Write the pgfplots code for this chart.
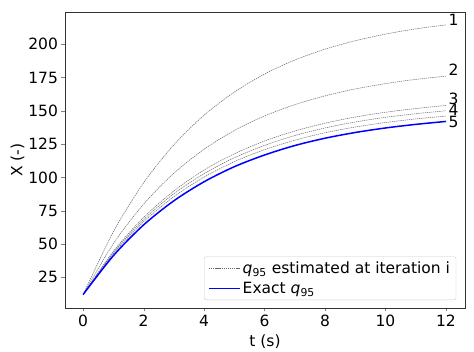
\documentclass[border=0pt]{standalone}
\usepackage{pgfplots}
\pgfplotsset{compat=1.18}
\usepackage{fontspec}
\setmainfont{DejaVu Sans}
\begin{document}
\begin{tikzpicture}
\pgfplotsset{
  est/.style={black!60, line width=0.5pt, dash pattern=on 1.3pt off 0.8pt, smooth},
}
\begin{axis}[
  name=ax,
  scale only axis,
  width=400pt, height=296pt,
  xmin=-0.6, xmax=12.63,
  ymin=1.9, ymax=224.2,
  xtick={0,2,4,6,8,10,12},
  ytick={25,50,75,100,125,150,175,200},
  tick align=outside,
  major tick length=3.5pt,
  tick pos=left,
  axis line style={black!80, line width=0.7pt},
  /pgf/number format/assume math mode=true,
  tick label style={font=\fontsize{15.5}{18}\selectfont},
  label style={font=\fontsize{15.5}{18}\selectfont},
  xlabel={t (s)},
  ylabel={X (-)},
  xlabel style={yshift=-1pt},
  ylabel style={yshift=-3pt},
  legend cell align=left,
  legend style={at={(0.978,0.027)}, anchor=south east,
    font=\fontsize{15.5}{18}\selectfont,
    draw=black!20, rounded corners=2pt, fill=white,
    inner xsep=4pt, inner ysep=3pt, row sep=3pt},
  legend image code/.code={\draw[#1] (0pt,0pt) -- (31pt,0pt);},
]
% curve 1
\addplot[est] coordinates {
(0,12) (1,59.1) (2,95.9) (3,124.4) (4,146.7) (5,164.0) (6,177.6) (7,188.1) (8,196.3) (9,202.6) (10,207.6) (11,211.5) (12,214.5)};
\addlegendentry{\textit{q}\textsubscript{95} estimated at iteration i}
% curve 2
\addplot[est, forget plot] coordinates {
(0,12) (1,50.2) (2,79.9) (3,103.1) (4,121.1) (5,135.2) (6,146.1) (7,154.6) (8,161.2) (9,166.4) (10,170.4) (11,173.6) (12,176.0)};
% curve 3
\addplot[est, forget plot] coordinates {
(0,12) (1,44.5) (2,69.9) (3,89.8) (4,105.5) (5,117.7) (6,127.3) (7,134.8) (8,140.7) (9,145.3) (10,148.9) (11,151.7) (12,154.0)};
% curve 4
\addplot[est, forget plot] coordinates {
(0,12) (1,43.6) (2,68.3) (3,87.7) (4,102.8) (5,114.7) (6,124.0) (7,131.4) (8,137.1) (9,141.6) (10,145.1) (11,147.8) (12,150.0)};
% curve 5
\addplot[est, forget plot] coordinates {
(0,12) (1,42.7) (2,66.7) (3,85.5) (4,100.2) (5,111.8) (6,120.8) (7,127.9) (8,133.5) (9,137.8) (10,141.2) (11,143.9) (12,146.0)};
% exact
\addplot[blue, line width=1.5pt, smooth] coordinates {
(0,12) (1,41.2) (2,64.3) (3,82.4) (4,96.7) (5,108.0) (6,116.8) (7,123.9) (8,129.4) (9,133.7) (10,137.1) (11,139.8) (12,142.0)};
\addlegendentry{Exact \textit{q}\textsubscript{95}}
\node[anchor=west, font=\fontsize{15.5}{18}\selectfont, inner sep=1pt] at (axis cs:12.05,218) {1};
\node[anchor=west, font=\fontsize{15.5}{18}\selectfont, inner sep=1pt] at (axis cs:12.05,181) {2};
\node[anchor=west, font=\fontsize{15.5}{18}\selectfont, inner sep=1pt] at (axis cs:12.05,159) {3};
\node[anchor=west, font=\fontsize{15.5}{18}\selectfont, inner sep=1pt] at (axis cs:12.05,150.5) {4};
\node[anchor=west, font=\fontsize{15.5}{18}\selectfont, inner sep=1pt] at (axis cs:12.05,141.5) {5};
\end{axis}
\path (ax.south west) ++(-65pt,-43pt) coordinate (bl);
\path (ax.north east) ++(9pt,12pt) coordinate (tr);
\path (bl) rectangle (tr);
\end{tikzpicture}
\end{document}
